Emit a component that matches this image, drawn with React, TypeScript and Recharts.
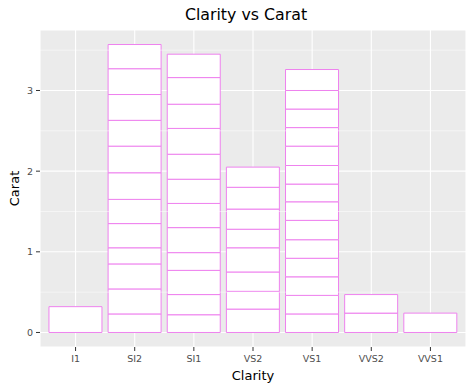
import React from "react";
import {
  BarChart,
  Bar,
  XAxis,
  YAxis,
  CartesianGrid,
  ReferenceLine,
  Label,
} from "recharts";

const CLARITY = ["I1", "SI2", "SI1", "VS2", "VS1", "VVS2", "VVS1"];

// carat of each diamond, stacked bottom-up in row order
const CARAT_I1 = [0.32];
const CARAT_SI2 = [0.23, 0.31, 0.31, 0.2, 0.3, 0.3, 0.33, 0.33, 0.32, 0.32, 0.32, 0.3];
const CARAT_SI1 = [0.22, 0.25, 0.3, 0.22, 0.31, 0.3, 0.3, 0.31, 0.32, 0.3, 0.33, 0.29];
const CARAT_VS2 = [0.29, 0.22, 0.24, 0.3, 0.23, 0.25, 0.27, 0.25];
const CARAT_VS1 = [0.23, 0.23, 0.23, 0.23, 0.23, 0.24, 0.23, 0.22, 0.23, 0.24, 0.23, 0.23, 0.23, 0.26];
const CARAT_VVS2 = [0.24, 0.23];
const CARAT_VVS1 = [0.24];

const Y_TICKS = [0, 1, 2, 3];
const Y_MINOR = [0.5, 1.5, 2.5, 3.5];

const segments = [CARAT_I1, CARAT_SI2, CARAT_SI1, CARAT_VS2, CARAT_VS1, CARAT_VVS2, CARAT_VVS1];
const maxSegs = Math.max(...segments.map((s) => s.length));
const segKeys = Array.from({ length: maxSegs }, (_, i) => "s" + i);

const data = CLARITY.map((c, ci) => {
  const row: Record<string, string | number> = { clarity: c };
  segments[ci].forEach((v, i) => {
    row["s" + i] = v;
  });
  return row;
});

const FONT = "DejaVu Sans, sans-serif";
const TICK = { fontSize: 9.5, fontFamily: FONT, fill: "#4D4D4D" };

export default function App() {
  return (
    <div style={{ position: "absolute", left: 0, top: 0, width: 474, height: 392, background: "#fff" }}>
      <div
        style={{
          position: "absolute",
          top: 5,
          left: 146,
          width: 200,
          textAlign: "center",
          fontFamily: FONT,
          fontSize: 15.8,
          color: "#000",
        }}
      >
        Clarity vs Carat
      </div>
      <BarChart
        width={474}
        height={392}
        data={data}
        margin={{ top: 30, right: 8, bottom: 5, left: 10 }}
        barCategoryGap="5%"
      >
        <CartesianGrid fill="#EBEBEB" stroke="#FFFFFF" strokeWidth={1.1} />
        {Y_MINOR.map((y) => (
          <ReferenceLine key={y} y={y} stroke="#FFFFFF" strokeWidth={0.5} />
        ))}
        <XAxis
          dataKey="clarity"
          height={40}
          padding={{ left: 6, right: 6 }}
          axisLine={false}
          tickSize={4}
          tickMargin={4}
          tickLine={{ stroke: "#333333" }}
          tick={TICK}
          interval={0}
        >
          <Label value="Clarity" position="insideBottom" offset={7} style={{ fontSize: 13, fontFamily: FONT, fill: "#000" }} />
        </XAxis>
        <YAxis
          width={30}
          type="number"
          domain={[-0.18, 3.75]}
          ticks={Y_TICKS}
          allowDataOverflow
          axisLine={false}
          tickSize={4}
          tickMargin={3}
          tickLine={{ stroke: "#333333" }}
          tick={TICK}
        >
          <Label
            value="Carat"
            angle={-90}
            position="insideLeft"
            offset={4}
            style={{ fontSize: 13, fontFamily: FONT, fill: "#000", textAnchor: "middle" }}
          />
        </YAxis>
        {segKeys.map((k) => (
          <Bar
            key={k}
            dataKey={k}
            stackId="carat"
            fill="#FFFFFF"
            stroke="#EE82EE"
            strokeWidth={1}
            isAnimationActive={false}
          />
        ))}
      </BarChart>
    </div>
  );
}
